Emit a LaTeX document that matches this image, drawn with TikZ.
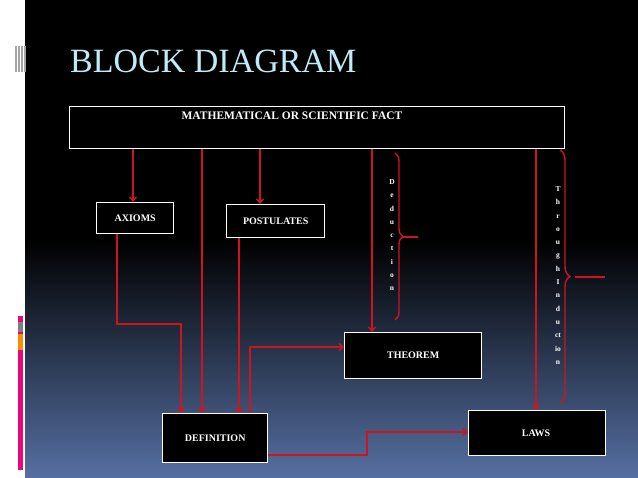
\documentclass[tikz,border=0pt]{standalone}
\usepackage{fontspec}
\setmainfont{Liberation Serif}
\usetikzlibrary{decorations.pathreplacing,arrows.meta}
\definecolor{ar}{HTML}{D0141E}
\definecolor{bot}{HTML}{5670A2}
\begin{document}
\begin{tikzpicture}[x=1pt,y=-1pt,
 blk/.style={draw=white,line width=1.4pt,fill=black,text=white,font=\bfseries\fontsize{10}{11}\selectfont,anchor=north west,inner sep=0},
 con/.style={ar,line width=1.4pt},
 arr/.style={con,-{Straight Barb[length=4pt,width=7pt]}},
 lt/.style={text=white,font=\bfseries\fontsize{7.5}{13.3}\selectfont,align=center}]
\useasboundingbox (0,0) rectangle (638,478);
\fill[white] (0,0) rectangle (638,478);
\shade[top color=black,bottom color=bot] (25,240) rectangle (638,478);
\fill[black] (25,0) rectangle (638,242);
% left decorations
\foreach \x in {15,18,21,24} \fill[gray!70] (\x,46) rectangle (\x+1.5,72);
\fill[magenta!80!red] (18,316) rectangle (23,470);
\fill[gray] (18,322) rectangle (23,332);
\fill[orange!90!yellow] (18,334) rectangle (23,350);
\node[text={rgb,255:red,190;green,235;blue,245},font=\fontsize{34}{36}\selectfont,anchor=base west,inner sep=0] (title) at (70,73) {BLOCK DIAGRAM};
\node[blk,minimum width=495,minimum height=42] (fact) at (69,106) {};
\node[text=white,font=\bfseries\fontsize{11.5}{12}\selectfont,anchor=center] (facttxt) at (292,116) {MATHEMATICAL OR SCIENTIFIC FACT};
\node[blk,minimum width=77,minimum height=31] (ax) at (96,202) {AXIOMS};
\node[blk,minimum width=98,minimum height=33] (po) at (226,204) {POSTULATES};
\node[blk,minimum width=137,minimum height=46] (th) at (344,332) {THEOREM};
\node[blk,minimum width=105,minimum height=49] (de) at (162,413) {DEFINITION};
\node[blk,minimum width=137,minimum height=45] (la) at (468,410) {};
\node[text=white,font=\bfseries\fontsize{10}{11}\selectfont] (latxt) at (536,433) {LAWS};
% arrows
\draw[arr] (fact.south west -| 133,0) -- (ax.north -| 133,0);
\draw[arr] (fact.south west -| 202,0) -- (de.north west -| 202,0);
\draw[arr] (fact.south west -| 260,0) -- (po.north west -| 260,0);
\draw[arr] (fact.south west -| 372,0) -- (th.north west -| 372,0);
\draw[arr] (fact.south west -| 536,0) -- (la.north west -| 536,0);
\draw[arr] (ax.south west -| 117,0) -- (117,324) -- (181,324) -- (de.north west -| 181,0);
\draw[arr] (po.south west -| 239,0) -- (de.north west -| 239,0);
\draw[arr] (de.north west -| 250,0) -- (250,347) -- (th.west |- 0,347);
\draw[arr] (de.east |- 0,455) -- (367,455) -- (367,432) -- (la.west |- 0,432);
% braces
\draw[con,decorate,decoration={brace,amplitude=8pt,aspect=0.5}] (395,153) -- (395,320) coordinate (db);
\draw[con] (403,237) -- (418,237);
\draw[con,decorate,decoration={brace,amplitude=10pt,aspect=0.5}] (560,150) -- (560,403) coordinate (ib);
\draw[con] (575,277) -- (605,277);
\node[lt,anchor=north] (ded) at (392,176) {D\\e\\d\\u\\c\\t\\i\\o\\n};
\node[lt,anchor=north] (ind) at (558,183) {T\\h\\r\\o\\u\\g\\h\\I\\n\\d\\u\\ct\\io\\n};
\end{tikzpicture}
\end{document}
